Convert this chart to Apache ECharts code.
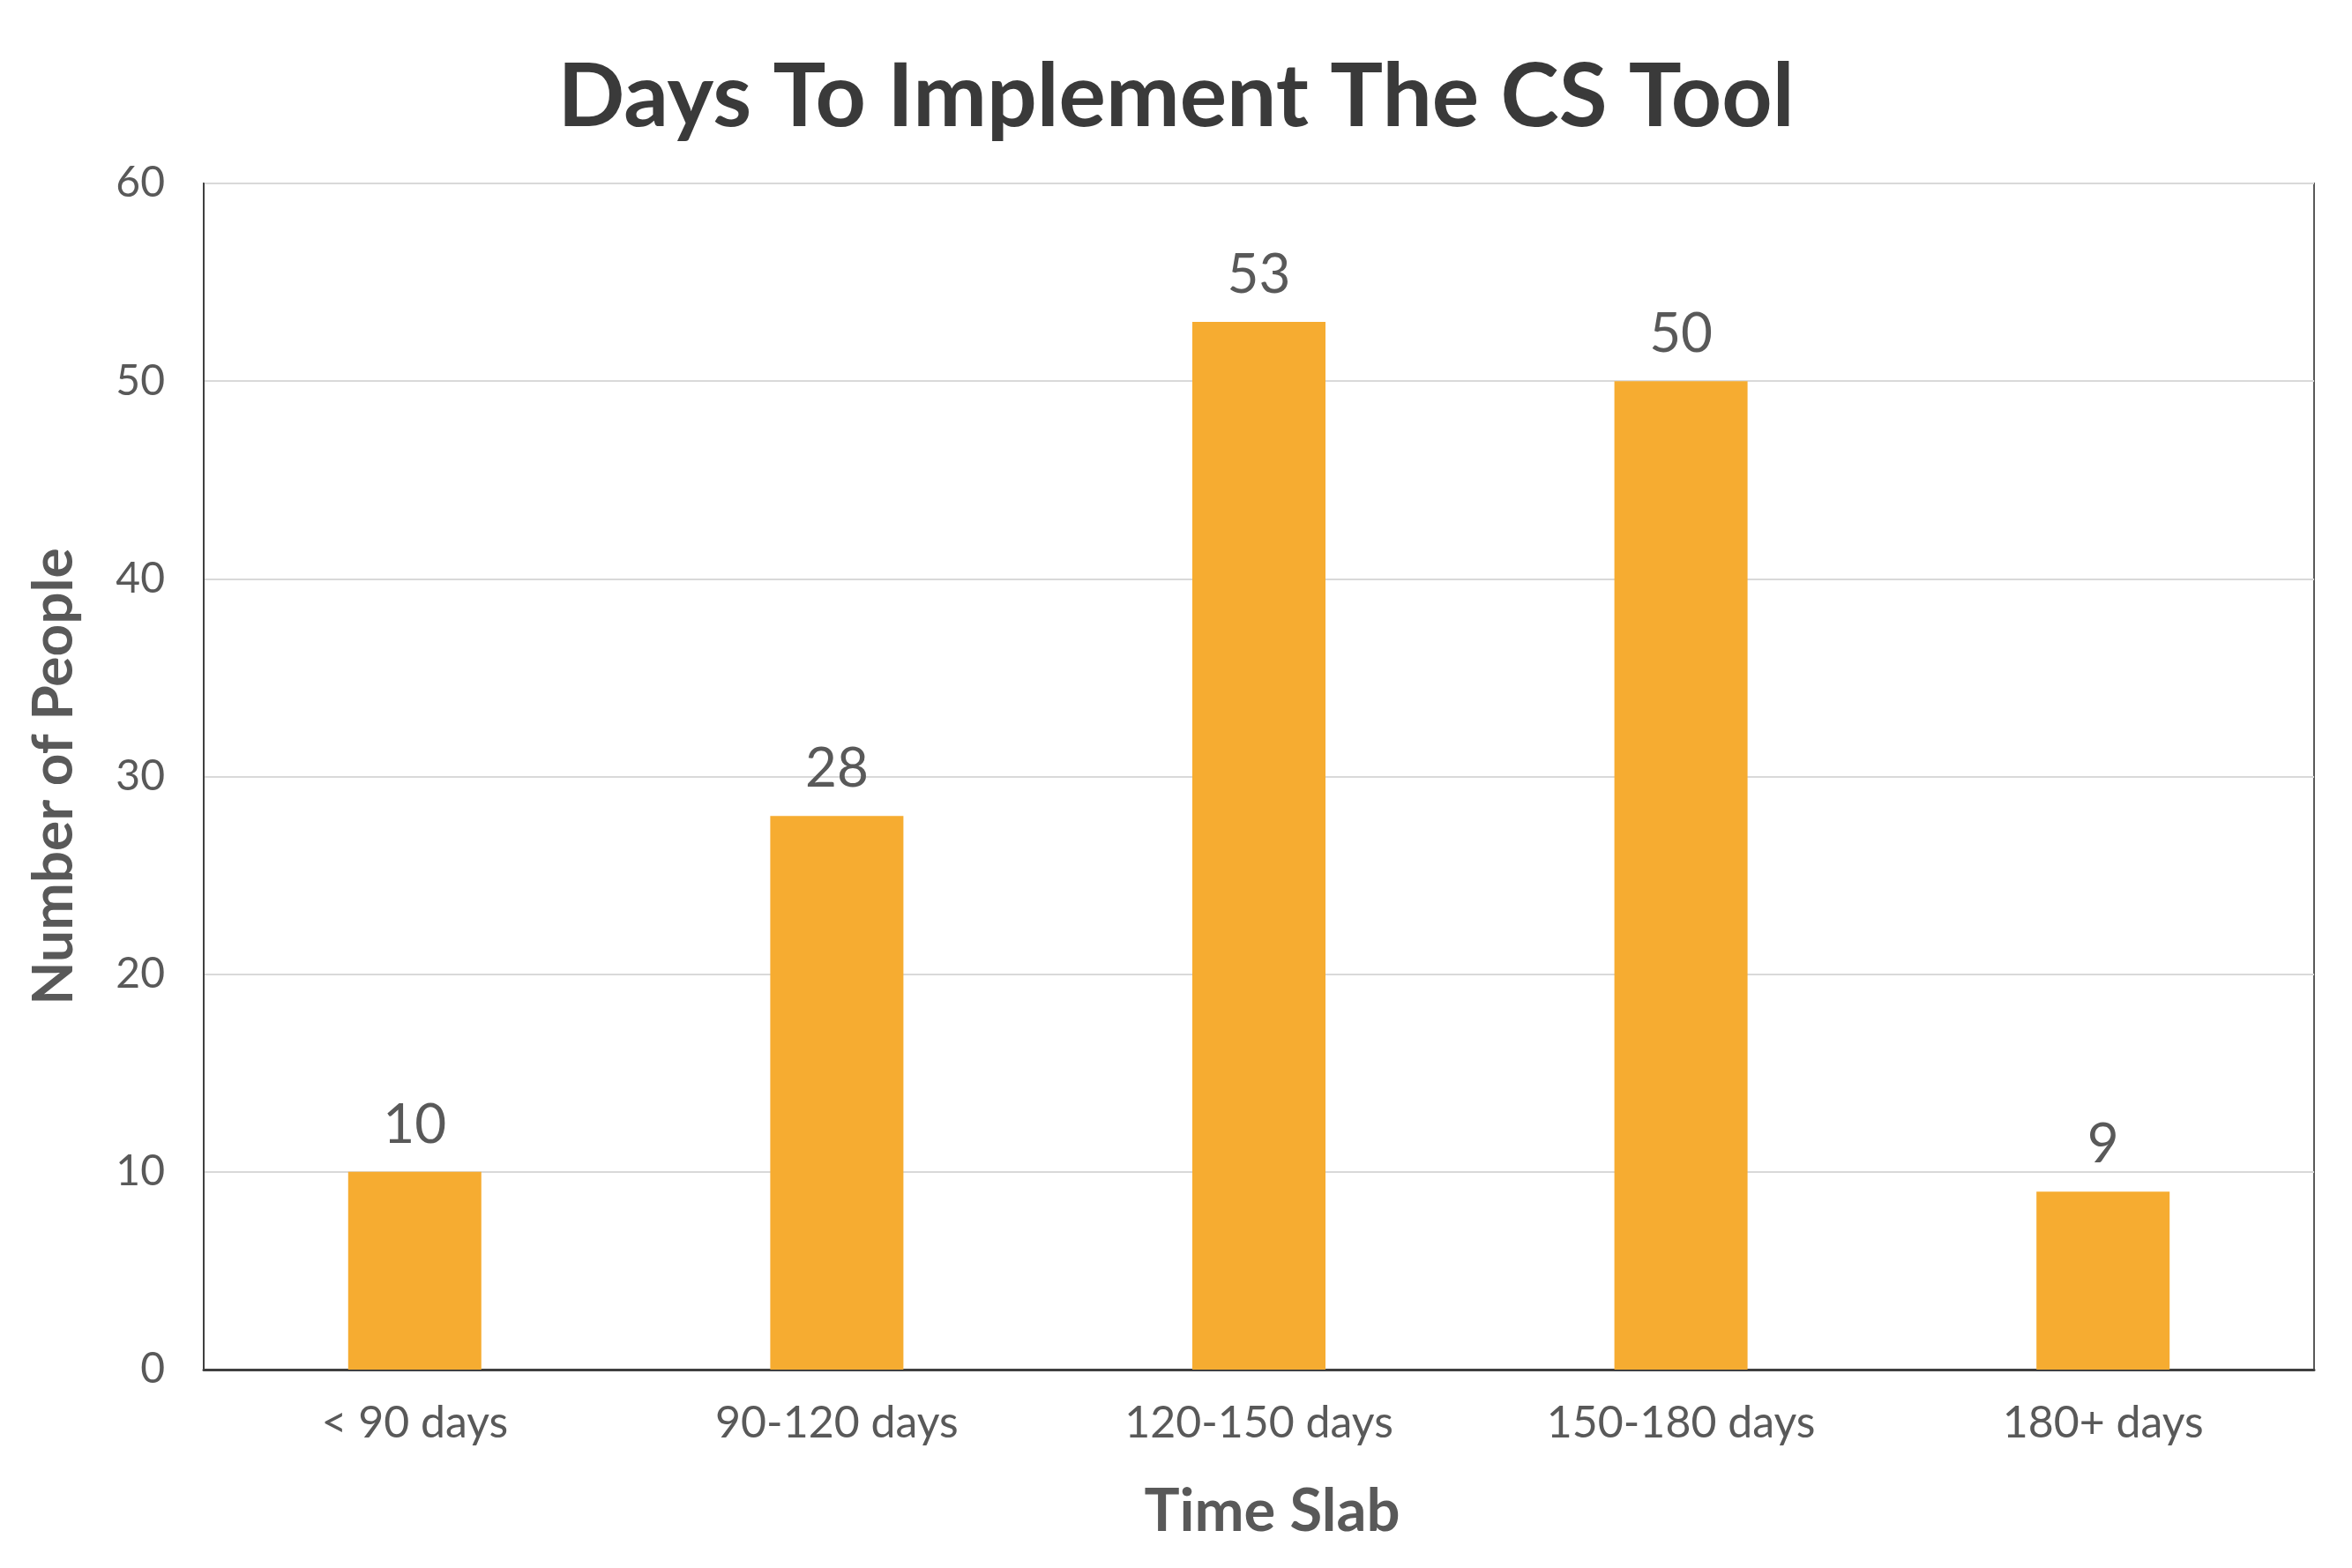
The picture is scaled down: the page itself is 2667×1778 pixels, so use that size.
<!DOCTYPE html>
<html>
<head>
<meta charset="utf-8">
<script src="https://cdn.jsdelivr.net/npm/echarts@6/dist/echarts.min.js"></script>
<style>
html,body{margin:0;padding:0;background:#fff;}
#chart{width:2667px;height:1778px;}
</style>
</head>
<body>
<div id="chart"></div>
<script>
const titleText = 'Days To Implement The CS Tool';
const categories = ['< 90 days', '90-120 days', '120-150 days', '150-180 days', '180+ days'];
const people = [10, 28, 53, 50, 9];
const xAxisName = 'Time Slab';
const yAxisName = 'Number of People';

const chart = echarts.init(document.getElementById('chart'));
chart.setOption({
  backgroundColor: '#ffffff',
  animation: false,
  title: {
    text: titleText,
    left: 'center',
    top: 56,
    textStyle: { fontFamily: 'Lato', fontWeight: 'bold', fontSize: 100, color: '#3a3a3a' }
  },
  grid: {
    left: 231, right: 43, top: 208, bottom: 225,
    show: true, borderColor: '#595959', borderWidth: 2
  },
  xAxis: {
    type: 'category',
    data: categories,
    name: xAxisName,
    nameLocation: 'middle',
    nameGap: 128,
    nameTextStyle: { fontFamily: 'Lato', fontWeight: 'bold', fontSize: 67, color: '#595959', padding: [0, 0, 0, 30] },
    axisLine: { show: true, lineStyle: { color: '#404040', width: 3 } },
    axisTick: { show: false },
    axisLabel: { fontFamily: 'Lato', fontSize: 50, color: '#595959', margin: 36 }
  },
  yAxis: {
    type: 'value',
    min: 0, max: 60, interval: 10,
    name: yAxisName,
    nameLocation: 'middle',
    nameGap: 138,
    nameTextStyle: { fontFamily: 'Lato', fontWeight: 'bold', fontSize: 64, color: '#595959' },
    axisLine: { show: true, lineStyle: { color: '#404040', width: 2 } },
    axisTick: { show: false },
    axisLabel: { fontFamily: 'Lato', fontSize: 48, color: '#595959', margin: 44 },
    splitLine: { show: true, lineStyle: { color: '#d9d9d9', width: 2 } }
  },
  series: [{
    type: 'bar',
    data: people,
    barWidth: 151,
    itemStyle: { color: '#F6AC31' },
    label: {
      show: true, position: 'top', distance: 22,
      fontFamily: 'Lato', fontSize: 62, color: '#595959'
    }
  }]
});
</script>
</body>
</html>
